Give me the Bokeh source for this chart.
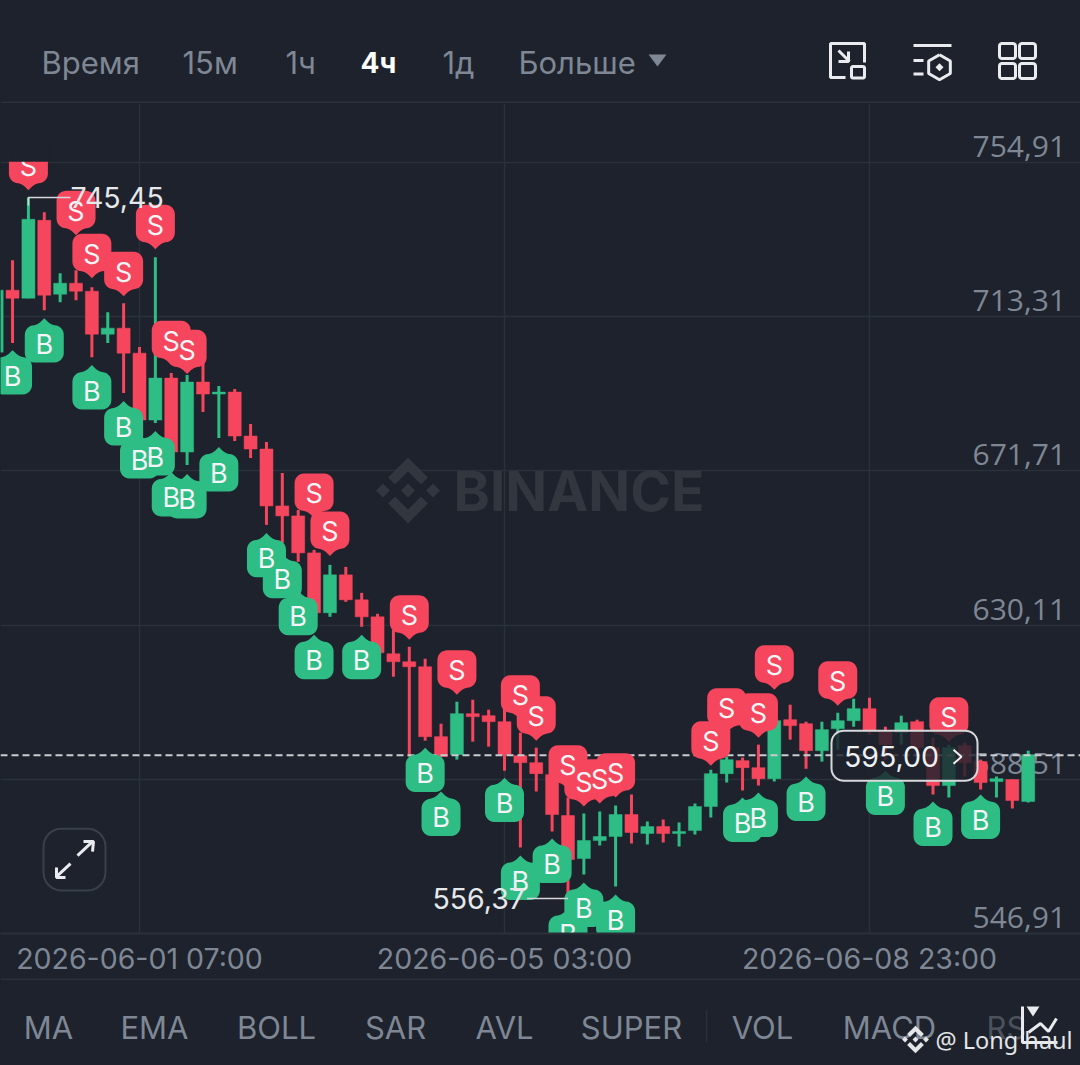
import math
from bokeh.plotting import figure
from bokeh.layouts import column
from bokeh.embed import file_html
from bokeh.resources import INLINE
from bokeh.core.properties import value
from bokeh.models import (ColumnDataSource, FixedTicker, Grid, LinearAxis, Range1d)

# ---------- data ----------
candle_idx = list(range(-9, 57))
opens = [703.72,720.42,718.27,739.28,719.35,722.31,720.15,708.57,710.19,703.45,685.40,696.72,676.78,695.64,692.41,692.94,681.09,677.59,662.23,659.54,649.57,633.41,643.65,636.91,632.33,622.36,620.21,618.86,600.00,595.15,606.20,605.66,604.04,594.88,592.99,589.76,578.72,567.14,571.98,573.07,578.99,573.87,575.75,573.87,574.68,581.14,590.03,593.53,591.65,588.68,604.58,603.50,596.22,602.16,604.31,607.55,601.35,601.08,604.04,597.04,586.80,597.58,593.27,587.88,588.42,582.49]
closes = [720.42,718.27,739.55,719.08,722.31,720.15,708.57,710.19,703.45,685.40,696.72,676.78,695.64,692.41,692.94,681.09,677.59,662.23,659.54,649.57,633.41,643.65,636.91,632.33,622.63,620.21,618.86,600.00,594.61,606.20,605.39,604.04,595.15,592.99,590.03,578.99,566.87,571.98,573.07,578.99,574.14,575.75,573.87,574.41,581.14,590.03,593.80,591.65,588.68,604.31,602.97,596.22,601.89,604.31,607.55,601.35,597.85,603.77,597.04,586.80,597.04,592.99,587.61,588.68,582.76,595.15]
highs = [720.42,728.51,745.45,741.44,725.00,725.81,721.23,714.50,716.92,705.07,729.31,698.06,697.52,700.76,694.56,693.75,684.32,679.48,671.12,661.16,650.38,646.34,645.80,638.80,633.14,628.83,624.25,621.02,603.50,609.43,609.97,607.28,608.08,601.08,597.04,596.50,583.57,579.26,579.80,581.42,584.38,577.10,577.64,576.83,581.95,591.11,594.61,594.34,597.85,604.58,608.62,604.04,604.04,606.46,610.24,610.51,602.69,605.66,604.58,599.73,597.85,598.39,593.80,589.23,588.42,596.22]
lows = [702.37,706.15,718.27,715.04,717.19,717.73,702.37,706.15,692.68,684.59,684.59,675.97,673.28,687.56,680.55,679.74,675.16,657.12,652.26,647.15,632.60,632.33,636.37,629.64,622.09,616.17,594.61,598.92,594.61,593.81,598.65,597.31,590.84,570.10,585.18,574.41,556.37,562.83,570.64,559.59,571.17,570.91,571.44,570.37,573.60,578.18,587.61,585.45,586.80,587.88,599.19,591.37,593.27,596.50,602.69,600.54,593.81,597.85,595.15,584.38,583.57,589.23,585.72,583.57,580.60,582.22]

sell_idx = [-7,-4,-3,-1,1,2,3,11,12,17,20,24,25,27,28,29,30,36,37,39,40,44,51]
sell_tip = [747.36,735.24,723.66,718.81,731.47,700.22,697.79,659.00,648.76,626.13,611.30,604.58,598.92,585.72,581.14,581.95,583.57,592.19,601.08,599.73,612.66,608.35,598.65]
buy_idx = [-8,-6,-3,-1,0,1,2,3,5,8,9,10,11,14,18,19,23,24,26,27,28,30,38,39,42,47,50,53]
buy_tip = [704.26,712.88,700.22,690.52,681.63,682.44,671.39,670.85,678.13,654.96,649.30,639.33,627.48,627.48,597.04,585.18,588.95,567.94,572.52,553.66,560.67,557.44,583.57,584.91,589.23,590.84,582.49,584.38]

price_ticks = [754.91, 713.31, 671.71, 630.11, 588.51, 546.91]
price_labels = ["754,91", "713,31", "671,71", "630,11", "588,51", "546,91"]
time_ticks = [0, 23, 46]
time_labels = ["2026-06-01 07:00", "2026-06-05 03:00", "2026-06-08 23:00"]
high_idx, high_val, high_text = -7, 745.45, "745,45"
low_idx, low_val, low_text = 27, 556.37, "556,37"
last_price, last_text = 595.00, "595,00"

top_tabs = ["Время", "15м", "1ч", "4ч", "1д", "Больше"]
bottom_tabs = ["MA", "EMA", "BOLL", "SAR", "AVL", "SUPER", "VOL", "MACD", "RS"]

# ---------- style ----------
BG = "#1d222c"
GRID = "#2b303a"
GREEN = "#2ebd85"
RED = "#f6465d"
MUTED = "#7f8794"
ICON = "#e9ebee"
FONT = "Inter"

# ---------- chart geometry ----------
W = 1080
FRAME_H = 831
TOP_PX = 103
CANDLE_PX = 15.87
UNIT = 0.2694            # price per pixel
x_start = -139 / CANDLE_PX
x_end = (W - 139) / CANDLE_PX
y_start = 546.91
y_end = y_start + FRAME_H * UNIT
LABEL_SHIFT = 16 * UNIT

def X(px):
    return x_start + px / CANDLE_PX

def Y(py):
    return y_end - (py - TOP_PX) * UNIT

def rrect(x0, y0, x1, y1, r, n=6):
    xs, ys = [], []
    for cx, cy, a0 in ((x1 - r, y0 + r, -90), (x1 - r, y1 - r, 0), (x0 + r, y1 - r, 90), (x0 + r, y0 + r, 180)):
        for k in range(n + 1):
            a = math.radians(a0 + 90 * k / n)
            xs.append(cx + r * math.cos(a))
            ys.append(cy + r * math.sin(a))
    xs.append(xs[0]); ys.append(ys[0])
    return xs, ys

def marker_shape():
    # tip at (0,0); box above it, in pixels (y grows downward)
    bx, by = rrect(-19.5, -44.5, 19.5, -7, 9.5)
    # box path starts top right, runs clockwise: right side, bottom, left, top
    mid = len(bx) // 2
    xs = bx[:mid] + [10, 7, 4, 2, 0, -2, -4, -7, -10] + bx[mid:]
    ys = by[:mid] + [-7, -6, -4, -2, 0, -2, -4, -6, -7] + by[mid:]
    return xs, ys

logo_parts = [
    ([0, 7, 0, -7], [-7, 0, 7, 0]),
    ([-25, -18, -25, -32], [-7, 0, 7, 0]),
    ([25, 32, 25, 18], [-7, 0, 7, 0]),
    ([0, 20, 13, 0, -13, -20], [-33, -13, -6, -19, -6, -13]),
    ([0, 20, 13, 0, -13, -20], [33, 13, 6, 19, 6, 13]),
]

def base_fig(height, x_range, y_range, **kw):
    f = figure(width=W, height=height, x_range=x_range, y_range=y_range,
               output_backend="svg", toolbar_location=None,
               background_fill_color=BG, border_fill_color=BG,
               outline_line_color=None, min_border=0, **kw)
    return f

# ---------- header ----------
head = base_fig(TOP_PX, Range1d(0, W), Range1d(TOP_PX, 0), x_axis_location=None, y_axis_location=None)
head.grid.visible = False
tab_x = [41, 182, 285, 360, 442, 518]
for t, x in zip(top_tabs, tab_x):
    active = t == "4ч"
    head.text([x], [62], text=[t], text_font=value(FONT), text_font_size="28px" if active else "31px",
              text_baseline="middle", text_color="#ffffff" if active else MUTED,
              text_font_style="bold" if active else "normal")
head.patch([648, 666, 657], [54, 54, 66], fill_color=MUTED, line_color=None)
head.segment([0], [102], [W], [102], line_color=GRID, line_width=2)

# icon 1
L = dict(line_color=ICON, line_width=3)
head.multi_line([[845, 830, 830, 864, 864], [838, 849], [848, 848, 838], ],
                [[77, 77, 43, 43, 62], [50, 61], [51, 61, 61]], **L)
xs, ys = rrect(851, 66, 864, 77.5, 1.5)
head.line(xs, ys, **L)
# icon 2
head.multi_line([[913, 951], [913, 923], [913, 923]], [[45, 45], [60, 60], [73.5, 73.5]], **L)
hex_x = [939 + 12.5 * math.sin(math.radians(a)) for a in range(0, 361, 60)]
hex_y = [66.7 - 12.5 * math.cos(math.radians(a)) for a in range(0, 361, 60)]
head.line(hex_x, hex_y, **L)
head.patch([939, 943, 939, 935], [62.7, 66.7, 70.7, 66.7], fill_color=ICON, line_color=None)
# icon 3
for a, b in ((999, 43), (1019, 43), (999, 63), (1019, 63)):
    xs, ys = rrect(a, b, a + 16, b + 15, 2.5)
    head.line(xs, ys, **L)

# ---------- chart ----------
p = figure(width=W, height=FRAME_H + 44,
           x_range=Range1d(x_start, x_end), y_range=Range1d(y_start, y_end),
           output_backend="svg", toolbar_location=None,
           background_fill_color=BG, border_fill_color=BG, outline_line_color=None,
           min_border=0, min_border_bottom=44, y_axis_location=None)

p.extra_y_ranges = {"labels": Range1d(y_start - LABEL_SHIFT, y_end - LABEL_SHIFT)}
yax = LinearAxis(y_range_name="labels", ticker=FixedTicker(ticks=price_ticks),
                 major_label_overrides=dict(zip(price_ticks, price_labels)),
                 axis_line_color=None, major_tick_line_color=None, minor_tick_line_color=None,
                 major_tick_in=0, major_tick_out=0, minor_tick_in=0, minor_tick_out=0,
                 major_label_standoff=-108, major_label_text_color=MUTED,
                 major_label_text_font="Open Sans", major_label_text_font_size="30px", level="underlay")
p.add_layout(yax, "right")

xax = p.xaxis[0]
xax.ticker = FixedTicker(ticks=time_ticks)
xax.major_label_overrides = dict(zip(time_ticks, time_labels))
xax.axis_line_color = GRID
xax.axis_line_width = 2
xax.major_tick_line_color = None
xax.minor_tick_line_color = None
xax.major_tick_in = 0
xax.major_tick_out = 0
xax.minor_tick_in = 0
xax.minor_tick_out = 0
xax.major_label_standoff = 7
xax.major_label_text_color = MUTED
xax.major_label_text_font = FONT
xax.major_label_text_font_size = "28.5px"

p.grid.visible = False
p.add_layout(Grid(dimension=0, ticker=FixedTicker(ticks=time_ticks), grid_line_color=GRID, grid_line_width=1.5))
p.add_layout(Grid(dimension=1, ticker=FixedTicker(ticks=price_ticks), grid_line_color=GRID, grid_line_width=1.5))

# watermark
WM = "#31363f"
wm_cx, wm_cy = 407.5, 490.5
p.patches([[X(wm_cx + a) for a in xs] for xs, _ in logo_parts],
          [[Y(wm_cy + b) for b in ys] for _, ys in logo_parts], fill_color=WM, line_color=None)
p.text([X(453)], [Y(491)], text=["BINANCE"], text_font=value("Inter"), text_font_size="55px",
       text_font_style="bold", text_color=WM, text_baseline="middle")

# candles
colors = [GREEN if c >= o else RED for o, c in zip(opens, closes)]
src = ColumnDataSource(dict(i=candle_idx, o=opens, c=closes, h=highs, l=lows, col=colors))
p.segment("i", "h", "i", "l", source=src, line_color="col", line_width=3)
p.vbar("i", 0.82, "o", "c", source=src, fill_color="col", line_color="col", line_width=0.5)

# last price line
p.ray([x_start], [last_price], length=0, angle=0, line_color="#c9ccd0", line_width=2, line_dash="7 4")

# signal markers
mx, my = marker_shape()
p.patches([[i + a / CANDLE_PX for a in mx] for i in sell_idx],
          [[v - b * UNIT for b in my] for v in sell_tip], fill_color=RED, line_color=None)
p.patches([[i + a / CANDLE_PX for a in mx] for i in buy_idx],
          [[v + b * UNIT for b in my] for v in buy_tip], fill_color=GREEN, line_color=None)
p.text(sell_idx, sell_tip, text=["S"] * len(sell_idx), text_font=value(FONT), text_font_size="27px",
       text_color="#f4f5f6", text_align="center", text_baseline="middle", y_offset=-24)
p.text(buy_idx, buy_tip, text=["B"] * len(buy_idx), text_font=value(FONT), text_font_size="27px",
       text_color="#f4f5f6", text_align="center", text_baseline="middle", y_offset=26)
# mask of the marker clipped at the top price line
p.quad(left=[X(8)], right=[X(50)], top=[Y(140)], bottom=[Y(161.2)], fill_color=BG, line_color=None)

# high / low leaders
LEAD = "#d5d7da"
p.line([high_idx, high_idx, high_idx + 42 / CANDLE_PX], [high_val - 8 * UNIT, high_val, high_val], line_color=LEAD, line_width=1.5)
p.line([low_idx - 41 / CANDLE_PX, low_idx], [low_val, low_val], line_color=LEAD, line_width=1.5)
p.text([high_idx], [high_val], text=[high_text], x_offset=42, text_font=value(FONT), text_font_size="28.5px",
       text_color="#e6e8ea", text_baseline="middle")
p.text([low_idx], [low_val], text=[low_text], x_offset=-43, text_align="right", text_font=value(FONT),
       text_font_size="28.5px", text_color="#e6e8ea", text_baseline="middle")

# last-price tag
xs, ys = rrect(831, 731, 977, 781, 12)
p.patch([X(a) for a in xs], [Y(b) for b in ys], fill_color=BG, fill_alpha=0.82, line_color="#d7d9dc", line_width=2)
p.text([X(843.5)], [last_price], text=[last_text], text_font=value(FONT), text_font_size="28.5px",
       text_color="#eef0f2", text_baseline="middle", y_offset=1)
p.line([X(953), X(961), X(953)], [Y(750), Y(757), Y(764)], line_color="#eef0f2", line_width=2)

# expand button
xs, ys = rrect(43, 829, 105, 891, 18)
p.line([X(a) for a in xs], [Y(b) for b in ys], line_color="#3a404a", line_width=2)
p.multi_line([[X(77), X(92)], [X(70), X(56)], [X(83), X(93), X(92)], [X(65), X(56), X(56)]],
             [[Y(856), Y(842)], [Y(864), Y(877)], [Y(842), Y(842), Y(852)], [Y(878), Y(878), Y(868)]],
             line_color=ICON, line_width=3)

# ---------- footer ----------
foot = base_fig(87, Range1d(0, W), Range1d(1065, 978), x_axis_location=None, y_axis_location=None)
foot.grid.visible = False
foot.segment([0], [978.5], [W], [978.5], line_color=GRID, line_width=2)
tab_cx = [48, 154, 276, 395, 504, 631, 762, 889, 1006]
for t, x in zip(bottom_tabs, tab_cx):
    foot.text([x], [1027], text=[t], text_font=value(FONT), text_font_size="31px", text_align="center",
              text_baseline="middle", text_color="#4c525c" if t == "RS" else MUTED)
foot.segment([706], [1010], [706], [1042], line_color=GRID, line_width=1.5)
# chart-settings icon
foot.multi_line([[1022, 1022, 1057], [1028, 1040, 1048, 1056]], [[1006, 1042, 1042], [1032, 1023, 1031, 1018]],
                line_color=ICON, line_width=3)
foot.patch([1026, 1039, 1032.5], [1006, 1006, 1016], fill_color=ICON, line_color=None)
# image watermark
lg = 0.42
foot.patches([[915 + a * lg for a in xs] for xs, _ in logo_parts],
             [[1039 + b * lg for b in ys] for _, ys in logo_parts], fill_color="#e4e5e7", line_color=None)
foot.text([935], [1039], text=["@ Long haul"], text_font=value("Noto Sans"), text_font_size="23.5px",
          text_color="#e4e5e7", text_baseline="middle")

TPL = """{% block postamble %}<style>html,body{margin:0;padding:0;background:#1d222c;overflow:hidden}</style>{% endblock %}
"""
page = column(head, p, foot, spacing=0)
open("out.html", "w").write(file_html(page, INLINE, template=TPL))
